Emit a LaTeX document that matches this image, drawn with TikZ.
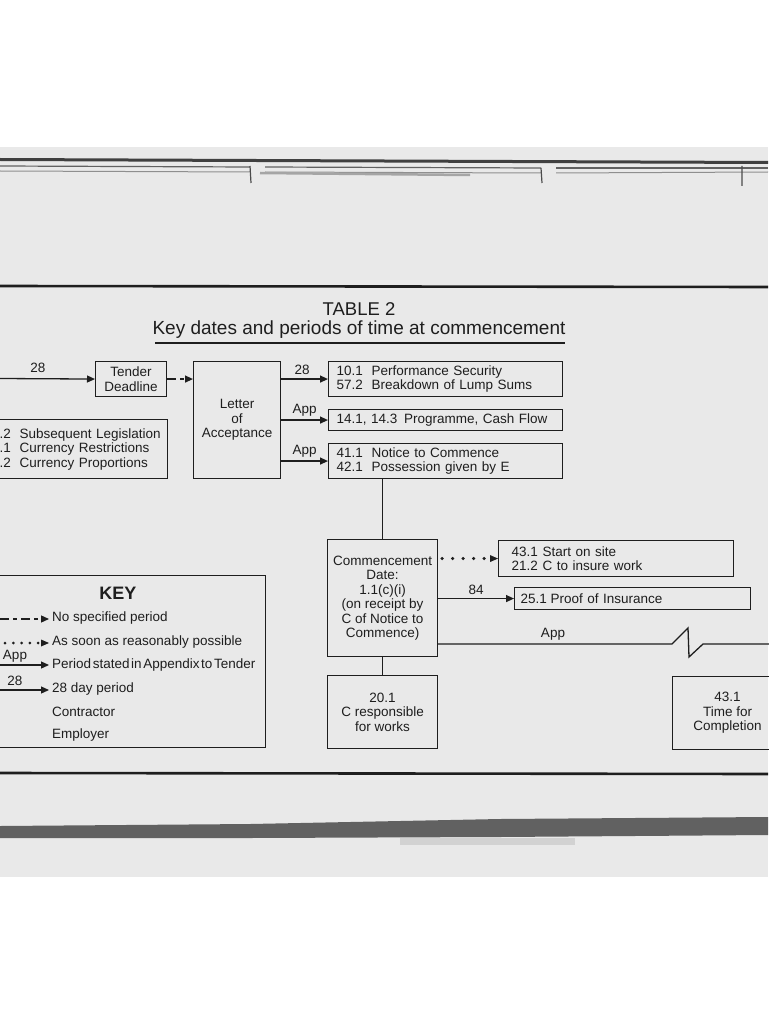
\documentclass[tikz,border=0pt]{standalone}
\usepackage{fontspec}
\setmainfont{Liberation Sans}
\usetikzlibrary{arrows.meta}
\definecolor{paper}{HTML}{E9E9E9}
\definecolor{ink}{HTML}{1E1E1E}
\newcommand\bx{\fontsize{13.5}{14.5}\selectfont}
\newcommand\ttl{\fontsize{19}{21}\selectfont}
\newcommand\nm[2]{\makebox[#1][l]{#2}}
\tikzset{
  box/.style={draw=ink, line width=1.1pt, inner sep=0pt, anchor=north west, font=\bx, align=center, text=ink},
  lbox/.style={box, align=left, inner xsep=8pt},
  txt/.style={inner sep=0pt, font=\bx, text=ink},
  arr/.style={draw=ink, line width=1.3pt, -{Triangle[length=8pt,width=7pt]}},
  plain/.style={draw=ink, line width=1.3pt},
  dotarr/.style={draw=ink, line width=3.4pt, dash pattern=on 0pt off 10.5pt, line cap=round, -{Triangle[length=8pt,width=7pt,line width=0pt]}},
  kdotarr/.style={draw=ink, line width=3pt, dash pattern=on 0pt off 8.3pt, line cap=round, -{Triangle[length=8pt,width=7pt,line width=0pt]}},
  dasharr/.style={draw=ink, line width=1.3pt, dash pattern=on 9pt off 4pt on 4pt off 4pt, -{Triangle[length=8pt,width=7pt]}},
}
\begin{document}
\begin{tikzpicture}[x=1pt,y=-1pt]
\useasboundingbox (0,0) rectangle (768,1024);
% paper
\fill[paper] (0,147) rectangle (768,877);
% top binding band (scan)
\fill[ink!85] (0,158) -- (768,161) -- (768,164) -- (0,161) -- cycle;
\draw[ink!70, line width=1.2pt] (0,166) -- (250,167);
\draw[ink!70, line width=1.2pt] (265,167) -- (541,168);
\draw[ink!70, line width=1.2pt] (556,168) -- (768,168);
\draw[ink!50, line width=1pt] (0,171) -- (250,172) (265,172) -- (541,173) (556,173) -- (768,172);
\draw[ink!40, line width=2.5pt] (260,173) -- (470,175);
\draw[ink!80, line width=1.2pt] (250,166) -- (251,183) (541,168) -- (542,183) (742,166) -- (742,186);
% frame lines
\draw[ink, line width=2.6pt] (0,286) -- (768,287);
\draw[ink, line width=2.6pt] (0,773) -- (768,774);
% bottom scan smear
\fill[ink!70] (0,826) -- (250,824) -- (500,819) -- (768,817) -- (768,835) -- (500,837) -- (250,838) -- (0,838) -- cycle;
\fill[ink!20] (400,838) rectangle (575,845);

% title
\node[inner sep=0pt, text=ink, font=\fontsize{18.5}{20}\selectfont] (t1) at (359,309) {TABLE 2};
\node[inner sep=0pt, text=ink, font=\ttl] (t2) at (359,330) {Key dates and periods of time at commencement};
\draw[ink, line width=1.4pt] (155,343) -- (565,343);

% top row
\node[box, minimum width=71pt, minimum height=35pt] (td) at (95,361) {Tender\\Deadline};
\node[box, minimum width=87pt, minimum height=117pt] (loa) at (193,361) {Letter\\of\\Acceptance};
\node[lbox, minimum height=59pt, text width=178pt, inner xsep=0pt, minimum width=178pt] (leg) at (-11,419)
  {\hspace*{10pt}\nm{20pt}{.2}Subsequent Legislation\\\hspace*{10pt}\nm{20pt}{.1}Currency Restrictions\\\hspace*{10pt}\nm{20pt}{.2}Currency Proportions};
\coordinate (l28) at (0,378.5);
\draw[arr] (l28) -- node[txt, above=5pt, pos=0.4] (lab28a) {28} (td.west);
\draw[dasharr] (td.east) -- (td.east -| loa.west);

\node[lbox, minimum width=234pt, text width=218pt, minimum height=35pt] (b10) at (328,361)
  {\nm{35pt}{10.1}Performance Security\\\nm{35pt}{57.2}Breakdown of Lump Sums};
\node[lbox, minimum width=234pt, text width=218pt, minimum height=21pt] (b14) at (328,409)
  {14.1, 14.3\enspace Programme, Cash Flow};
\node[lbox, minimum width=234pt, text width=218pt, minimum height=35pt] (b41) at (328,443)
  {\nm{35pt}{41.1}Notice to Commence\\\nm{35pt}{42.1}Possession given by E};
\draw[arr] (loa.east |- b10) -- node[txt, above=4pt, pos=0.45] (lab28b) {28} (b10.west);
\draw[arr] (loa.east |- b14) -- node[txt, above=3pt, pos=0.5] (labapp1) {App} (b14.west);
\draw[arr] (loa.east |- b41) -- node[txt, above=3pt, pos=0.5] (labapp2) {App} (b41.west);

% commencement
\node[box, minimum width=110pt, minimum height=117pt] (cd) at (327,539)
  {Commencement\\Date:\\1.1(c)(i)\\(on receipt by\\C of Notice to\\Commence)};
\draw[plain] (cd.north) -- (cd.north |- b41.south);
\node[lbox, minimum width=235pt, minimum height=36pt, inner xsep=13pt, text width=209pt] (b43) at (498,540)
  {\nm{31pt}{43.1}Start on site\\\nm{31pt}{21.2}C to insure work};
\node[lbox, minimum width=236pt, text width=224pt, minimum height=22pt, inner xsep=6pt] (b25) at (514,587)
  {\nm{30pt}{25.1}Proof of Insurance};
\draw[dotarr] ([xshift=4pt]cd.east |- b43) -- (b43.west);
\draw[arr] (cd.east |- b25) -- node[txt, above=3pt, pos=0.5] (lab84) {84} (b25.west);
\coordinate (z1) at (672,644);
\coordinate (z2) at (688,628);
\coordinate (z3) at (689,657);
\coordinate (z4) at (703,644);
\coordinate (zend) at (770,644);
\draw[plain, line join=miter] (cd.east |- z1) -- (z1) -- (z2) -- (z3) -- (z4) -- (zend);
\node[txt] (labapp3) at (553,634) {App};

% bottom boxes
\node[box, minimum width=110pt, minimum height=73pt] (b20) at (327,675) {20.1\\C responsible\\for works};
\draw[plain] (cd.south) -- (b20.north);
\node[box, minimum width=110pt, minimum height=73pt] (b43t) at (672,676) {43.1\\Time for\\Completion};

% key
\node[box, minimum width=276pt, minimum height=172pt] (key) at (-11,575) {};
\node[inner sep=0pt, text=ink, font=\fontsize{18}{20}\selectfont\bfseries] (keyt) at (118,593) {KEY};
\coordinate (k1s) at (0,619);
\coordinate (k1e) at (49,619);
\coordinate (k2s) at (5,643);
\coordinate (k2e) at (49,643);
\coordinate (k3s) at (0,665);
\coordinate (k3e) at (49,665);
\coordinate (k4s) at (0,690);
\coordinate (k4e) at (49,690);
\draw[dasharr] (k1s) -- (k1e);
\draw[kdotarr] (k2s) -- (k2e);
\draw[arr] (k3s) -- (k3e);
\draw[arr] (k4s) -- (k4e);
\node[txt, anchor=south] (kapp) at (15,662) {App};
\node[txt, anchor=south] (k28) at (15,686) {28};
\node[txt, anchor=west] (kt1) at (52,618) {No specified period};
\node[txt, anchor=west] (kt2) at (52,642) {As soon as reasonably possible};
\node[txt, anchor=west] (kt3) at (52,665) {\spaceskip=1.6pt Period stated in Appendix to Tender};
\node[txt, anchor=west] (kt4) at (52,689) {28 day period};
\node[txt, anchor=west] (kt5) at (52,712) {Contractor};
\node[txt, anchor=west] (kt6) at (52,735) {Employer};
\end{tikzpicture}
\end{document}
